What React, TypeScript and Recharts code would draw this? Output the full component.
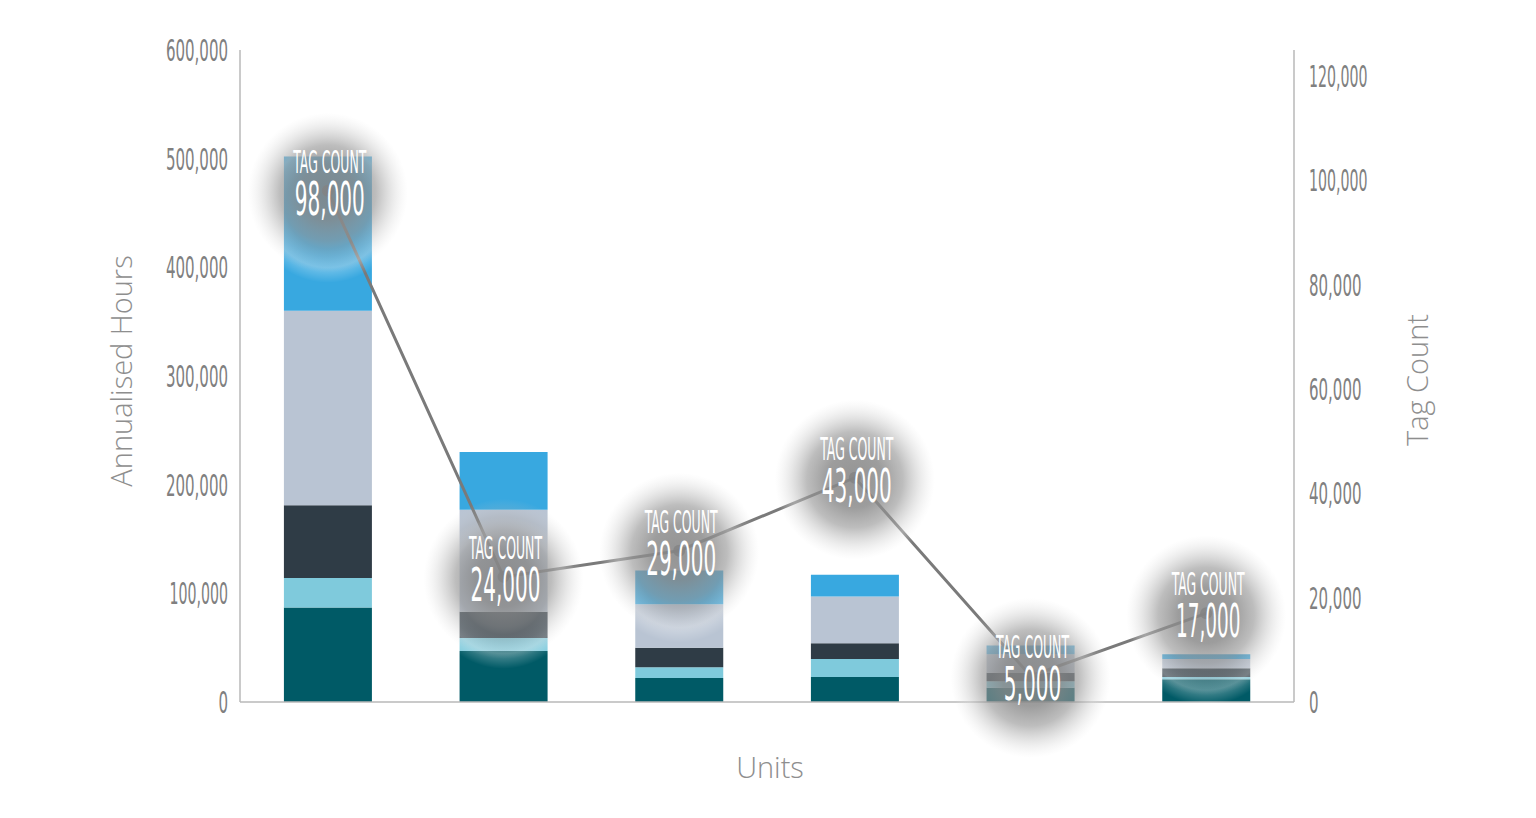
import React from 'react';
import { ComposedChart, Bar, Line, XAxis, YAxis, LabelList, Label } from 'recharts';

// ---- data ----
const units = ['Unit 1', 'Unit 2', 'Unit 3', 'Unit 4', 'Unit 5', 'Unit 6'];
const tealHours = [87000, 47000, 22000, 23000, 13000, 21000];
const cyanHours = [27000, 12000, 10000, 16500, 6000, 2000];
const slateHours = [67000, 24000, 18000, 14500, 8000, 8000];
const greyBlueHours = [179000, 94000, 40000, 43000, 17000, 8500];
const blueHours = [142000, 53000, 31000, 20000, 8000, 4500];
const tagCounts = [98000, 24000, 29000, 43000, 5000, 17000];
const hoursTicks = [0, 100000, 200000, 300000, 400000, 500000, 600000];
const tagTicks = [0, 20000, 40000, 60000, 80000, 100000, 120000];

const data = units.map((u, i) => ({
  unit: u,
  teal: tealHours[i],
  cyan: cyanHours[i],
  slate: slateHours[i],
  greyBlue: greyBlueHours[i],
  blue: blueHours[i],
  tags: tagCounts[i],
}));

const COND_FONT = "'Liberation Sans Narrow', 'DejaVu Sans Condensed', 'Liberation Sans', sans-serif";
const TITLE_FONT = "'Open Sans', 'Noto Sans', sans-serif";

const fmt = (v: number) => v.toLocaleString('en-US');

const textWidth = (s: string, digit: number, comma: number, one: number) =>
  s.split('').reduce((acc, ch) => acc + (ch === ',' ? comma : ch === '1' ? one : digit), 0);

const AxisTick = (props: any) => {
  const { x, y, payload, textAnchor } = props;
  const s = fmt(payload.value);
  return (
    <text
      x={x}
      y={y + 11}
      textAnchor={textAnchor}
      fill="#808080"
      fontSize={30}
      fontFamily={COND_FONT}
      textLength={textWidth(s, 9.6, 4.5, 6)}
      lengthAdjust="spacingAndGlyphs"
    >
      {s}
    </text>
  );
};

const GlowDot = (props: any) => {
  const { cx, cy, index } = props;
  if (cx == null || cy == null) return null;
  const gid = `glow-g-${index}`;
  const hid = `glow-h-${index}`;
  return (
    <g>
      <defs>
        <radialGradient id={gid}>
          <stop offset="0" stopColor="#858585" stopOpacity={0.88} />
          <stop offset="0.35" stopColor="#8a8a8a" stopOpacity={0.84} />
          <stop offset="0.6" stopColor="#959595" stopOpacity={0.62} />
          <stop offset="0.8" stopColor="#ababab" stopOpacity={0.28} />
          <stop offset="1" stopColor="#d0d0d0" stopOpacity={0} />
        </radialGradient>
        <radialGradient id={hid}>
          <stop offset="0.55" stopColor="#ffffff" stopOpacity={0} />
          <stop offset="0.8" stopColor="#ffffff" stopOpacity={0.3} />
          <stop offset="1" stopColor="#ffffff" stopOpacity={0} />
        </radialGradient>
      </defs>
      <circle cx={cx} cy={cy + 16} r={76} fill={`url(#${hid})`} />
      <circle cx={cx} cy={cy + 2} r={80} fill={`url(#${gid})`} />
    </g>
  );
};

const MainDot = (props: any) => {
  const { cx, cy } = props;
  if (cx == null || cy == null) return null;
  return <circle cx={cx} cy={cy} r={6} fill="#6e6e6e" opacity={0.8} />;
};

const TagLabel = (props: any) => {
  const { x, y, value } = props;
  if (x == null || y == null) return null;
  const s = fmt(value);
  return (
    <g>
      <text
        x={x + 2}
        y={y - 29 + 11}
        textAnchor="middle"
        fill="#ffffff"
        fontSize={32}
        fontFamily={COND_FONT}
        textLength={73}
        lengthAdjust="spacingAndGlyphs"
      >
        TAG COUNT
      </text>
      <text
        x={x + 2}
        y={y + 7 + 17}
        textAnchor="middle"
        fill="#ffffff"
        fontSize={46}
        fontFamily={COND_FONT}
        textLength={textWidth(s, 12.6, 7, 7)}
        lengthAdjust="spacingAndGlyphs"
      >
        {s}
      </text>
    </g>
  );
};

const LeftTitle = (props: any) => {
  const { viewBox } = props;
  const cx = viewBox.x + 112;
  const cy = viewBox.y + viewBox.height / 2 - 5;
  return (
    <text
      x={cx}
      y={cy}
      transform={`rotate(-90 ${cx} ${cy})`}
      textAnchor="middle"
      dominantBaseline="central"
      fill="#8e8e8e"
      fontSize={29}
      fontWeight={300}
      fontFamily={TITLE_FONT}
    >
      Annualised Hours
    </text>
  );
};

const RightTitle = (props: any) => {
  const { viewBox } = props;
  const cx = viewBox.x + 122;
  const cy = viewBox.y + viewBox.height / 2 + 4;
  return (
    <text
      x={cx}
      y={cy}
      transform={`rotate(-90 ${cx} ${cy})`}
      textAnchor="middle"
      dominantBaseline="central"
      fill="#8e8e8e"
      fontSize={29}
      fontWeight={300}
      fontFamily={TITLE_FONT}
    >
      Tag Count
    </text>
  );
};

const BottomTitle = (props: any) => {
  const { viewBox } = props;
  return (
    <text
      x={viewBox.x + viewBox.width / 2 + 3}
      y={viewBox.y + 76}
      textAnchor="middle"
      fill="#8e8e8e"
      fontSize={29}
      fontWeight={300}
      fontFamily={TITLE_FONT}
    >
      Units
    </text>
  );
};

export default function App() {
  return (
    <div style={{ width: 1520, height: 810, background: '#ffffff' }}>
      <ComposedChart
        width={1520}
        height={810}
        data={data}
        margin={{ top: 42, right: 0, bottom: 0, left: 0 }}
        barCategoryGap="25%"
      >
        <XAxis
          dataKey="unit"
          tick={false}
          tickLine={false}
          axisLine={{ stroke: '#b9b9b9', strokeWidth: 1.5 }}
          height={116}
        >
          <Label content={<BottomTitle />} />
        </XAxis>
        <YAxis
          yAxisId="left"
          orientation="left"
          width={232}
          domain={[0, 600000]}
          ticks={hoursTicks}
          tick={<AxisTick />}
          tickLine={false}
          tickSize={0}
          tickMargin={12}
          axisLine={{ stroke: '#b9b9b9', strokeWidth: 1.5 }}
        >
          <Label content={<LeftTitle />} />
        </YAxis>
        <YAxis
          yAxisId="right"
          orientation="right"
          width={234}
          domain={[0, 125000]}
          ticks={tagTicks}
          tick={<AxisTick />}
          tickLine={false}
          tickSize={0}
          tickMargin={15}
          axisLine={{ stroke: '#b9b9b9', strokeWidth: 1.5 }}
        >
          <Label content={<RightTitle />} />
        </YAxis>
        <Bar yAxisId="left" dataKey="teal" stackId="h" fill="#005a66" isAnimationActive={false} />
        <Bar yAxisId="left" dataKey="cyan" stackId="h" fill="#7fcadc" isAnimationActive={false} />
        <Bar yAxisId="left" dataKey="slate" stackId="h" fill="#2f3c46" isAnimationActive={false} />
        <Bar yAxisId="left" dataKey="greyBlue" stackId="h" fill="#b9c4d3" isAnimationActive={false} />
        <Bar yAxisId="left" dataKey="blue" stackId="h" fill="#38a8e0" isAnimationActive={false} />
        <Line
          yAxisId="right"
          dataKey="tags"
          stroke="none"
          dot={<GlowDot />}
          activeDot={false}
          legendType="none"
          isAnimationActive={false}
          zIndex={350}
        />
        <Line
          yAxisId="right"
          dataKey="tags"
          stroke="#7a7a7a"
          strokeWidth={3}
          dot={<MainDot />}
          activeDot={false}
          isAnimationActive={false}
        >
          <LabelList dataKey="tags" content={<TagLabel />} />
        </Line>
      </ComposedChart>
    </div>
  );
}
